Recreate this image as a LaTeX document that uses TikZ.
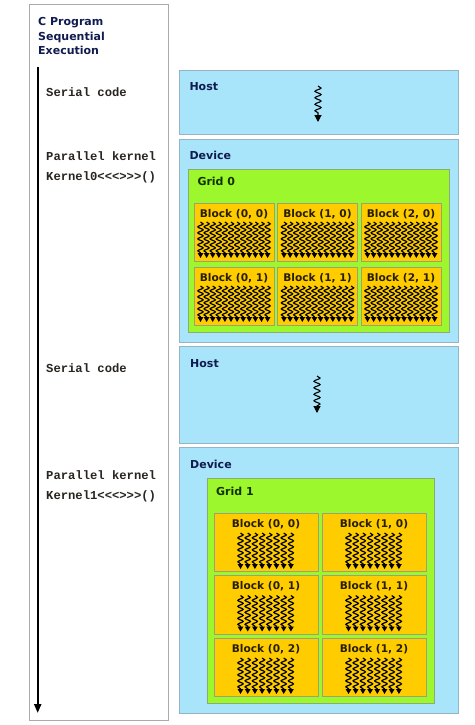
\documentclass[tikz,border=0pt]{standalone}
\usepackage{fontspec}
\setmainfont{DejaVu Sans}
\setmonofont{Liberation Mono}
\usetikzlibrary{arrows.meta,decorations.pathmorphing}
\definecolor{hostfill}{RGB}{168,228,250}
\definecolor{hostdraw}{RGB}{150,180,196}
\definecolor{gridfill}{RGB}{156,248,44}
\definecolor{griddraw}{RGB}{140,170,120}
\definecolor{blockfill}{RGB}{255,204,0}
\definecolor{blockdraw}{RGB}{160,160,120}
\definecolor{leftdraw}{RGB}{170,170,170}
\definecolor{navy}{RGB}{16,28,80}
\definecolor{gridtext}{RGB}{20,50,0}
\definecolor{blocktext}{RGB}{40,30,0}
\definecolor{codetext}{RGB}{40,36,30}
\tikzset{
  panel/.style={draw=leftdraw, fill=white, line width=0.8pt, anchor=north west, inner sep=0pt, outer sep=0pt},
  hostbox/.style={draw=hostdraw, fill=hostfill, line width=1pt, anchor=north west, inner sep=0pt, outer sep=0pt},
  gridbox/.style={draw=griddraw, fill=gridfill, line width=1pt, anchor=north west, inner sep=0pt, outer sep=0pt},
  blockbox/.style={draw=blockdraw, fill=blockfill, line width=1pt, anchor=north west, inner sep=0pt, outer sep=0pt},
  title/.style={anchor=base west, inner sep=0pt, text=navy, font=\fontsize{11}{12}\selectfont\bfseries},
  gridlabel/.style={anchor=base west, inner sep=0pt, text=gridtext, font=\fontsize{11}{12}\selectfont\bfseries},
  blocklabel/.style={anchor=base, inner sep=0pt, text=blocktext, font=\fontsize{10.6}{12}\selectfont\bfseries},
  code/.style={anchor=base west, inner sep=0pt, text=codetext, font=\fontsize{12.2}{14}\selectfont\ttfamily\bfseries},
  thread/.style={line width=1.2pt, decorate, decoration={snake, segment length=6pt, amplitude=2.6pt, post length=4pt}, -{Triangle[width=5.5pt,length=5pt]}},
  hostthread/.style={line width=1.1pt, decorate, decoration={snake, segment length=6.5pt, amplitude=3pt, post length=6pt}, -{Triangle[width=7pt,length=7pt]}},
  timeline/.style={line width=2pt, -{Triangle[width=7pt,length=9pt]}}
}
\begin{document}
\begin{tikzpicture}[x=1pt,y=-1pt]
\useasboundingbox (0,0) rectangle (474,725);
% left column
\node[panel, minimum width=139pt, minimum height=716pt] (prog) at (29.5,4.5) {};
\node[title] (t1) at (38,26) {C Program};
\node[title] (t2) at (38,40.5) {Sequential};
\node[title] (t3) at (38,55) {Execution};
\coordinate (tstart) at (37.7,67);
\coordinate (tend) at (37.7,713);
\draw[timeline] (tstart) -- (tend);
\node[code] (s1) at (46,96) {Serial code};
\node[code] (p1) at (46,160.7) {Parallel kernel};
\node[code] (k0) at (46,180) {Kernel0<<<>>>()};
\node[code] (s2) at (46,372.7) {Serial code};
\node[code] (p2) at (46,479) {Parallel kernel};
\node[code] (k1) at (46,499) {Kernel1<<<>>>()};
% host 1
\node[hostbox, minimum width=279pt, minimum height=64pt] (host1) at (179,70) {};
\node[title] (h1) at (189.3,90.7) {Host};
\coordinate (h1a) at (318,86);
\coordinate (h1b) at (318,122);
\draw[hostthread] (h1a) -- (h1b);
% device 1
\node[hostbox, minimum width=279pt, minimum height=203pt] (dev1) at (179,139) {};
\node[title] (d1) at (189.3,159) {Device};
\node[gridbox, minimum width=261pt, minimum height=163pt] (grid0) at (188,169) {};
\node[gridlabel] (g0) at (197.3,185) {Grid 0};
\foreach \c/\bx in {0/194,1/277.5,2/361} {
  \foreach \r/\by in {0/203,1/267} {
    \node[blockbox, minimum width=80pt, minimum height=58pt] (b0-\c-\r) at (\bx,\by) {};
    \node[blocklabel] (bl0-\c-\r) at (\bx+40,\by+14) {Block (\c, \r)};
    \foreach \i in {0,...,11} {
      \draw[thread] (\bx+6.5+\i*6.1,\by+19) -- (\bx+6.5+\i*6.1,\by+55);
    }
  }
}
% host 2
\node[hostbox, minimum width=279pt, minimum height=97pt] (host2) at (179,346) {};
\node[title] (h2) at (190,367.3) {Host};
\coordinate (h2a) at (317,376);
\coordinate (h2b) at (317,413);
\draw[hostthread] (h2a) -- (h2b);
% device 2
\node[hostbox, minimum width=279pt, minimum height=266pt] (dev2) at (179,447) {};
\node[title] (d2) at (190,468.7) {Device};
\node[gridbox, minimum width=227pt, minimum height=225pt] (grid1) at (207,478) {};
\node[gridlabel] (g1) at (216,495) {Grid 1};
\foreach \c/\bx in {0/214,1/322} {
  \foreach \r/\by in {0/513,1/575.5,2/638} {
    \node[blockbox, minimum width=104pt, minimum height=58.5pt] (b1-\c-\r) at (\bx,\by) {};
    \node[blocklabel] (bl1-\c-\r) at (\bx+52,\by+14) {Block (\c, \r)};
    \foreach \i in {0,...,7} {
      \draw[thread] (\bx+26.5+\i*7.2,\by+20) -- (\bx+26.5+\i*7.2,\by+56);
    }
  }
}
\end{tikzpicture}
\end{document}
